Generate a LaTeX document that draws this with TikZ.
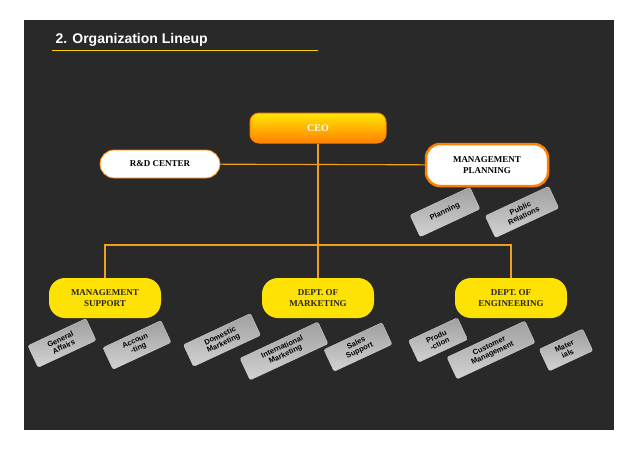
\documentclass[tikz,border=0pt]{standalone}
\usepackage{fontspec}
\setmainfont{Liberation Serif}
\newfontfamily\titlefont{Liberation Sans}
\definecolor{linkc}{HTML}{F0A020}
\begin{document}
\begin{tikzpicture}[x=1pt,y=-1pt,
  link/.style={draw=linkc, line width=1.1pt},
  head/.style={rounded corners=9pt, draw=orange, line width=1pt, top color=yellow!80!orange, bottom color=orange, text=white, font=\bfseries\normalsize, minimum width=136pt, minimum height=30pt},
  pill/.style={rounded corners=14pt, draw=orange, fill=white, font=\bfseries\small, align=center},
  dept/.style={rounded corners=16pt, fill=yellow!85!orange, font=\bfseries\small, align=center, minimum width=112pt, minimum height=40pt, text=black!85},
  task/.style={rotate=25, draw=gray!40, top color=gray!75, bottom color=gray!35, rounded corners=2pt, font=\titlefont\bfseries\fontsize{7.5}{8}\selectfont, text=black, align=center, minimum height=24pt, inner sep=1pt}]
\useasboundingbox (0,0) rectangle (638,451);
\fill[white] (0,0) rectangle (638,451);
\fill[black!84] (24,20) rectangle (614,430);
\node[anchor=west, text=white, font=\titlefont\bfseries\fontsize{14}{16}\selectfont] (title) at (52,40) {2. Organization Lineup};
\draw[yellow!70!orange, line width=0.8pt] (52,50) -- (318,50);

\node[head] (ceo) at (318,128) {CEO};
\node[pill, line width=0.8pt, minimum width=120pt, minimum height=28pt] (rd) at (160,164) {R\&D CENTER};
\node[pill, line width=2.5pt, minimum width=122pt, minimum height=42pt] (mp) at (487,165) {MANAGEMENT\\PLANNING};
\node[dept] (ms) at (105,298) {MANAGEMENT\\SUPPORT};
\node[dept] (mk) at (318,298) {DEPT. OF\\MARKETING};
\node[dept] (en) at (511,298) {DEPT. OF\\ENGINEERING};

\coordinate (c2) at (318,245);
\draw[link] (ceo) -- (c2);
\draw[link] (rd) -- (mp);
\draw[link] (ms) |- (c2);
\draw[link] (c2) -| (en);
\draw[link] (c2) -- (mk);

\node[task, minimum width=66pt] (t1) at (445,212) {Planning};
\node[task, minimum width=70pt] (t2) at (522,212) {Public\\Relations};
\node[task, minimum width=64pt] (t3) at (62,343) {General\\Affairs};
\node[task, minimum width=64pt] (t4) at (137,345) {Accoun\\-ting};
\node[task, minimum width=74pt] (t5) at (222,340) {Domestic\\Marketing};
\node[task, minimum width=86pt] (t6) at (284,351) {International\\Marketing};
\node[task, minimum width=64pt] (t7) at (358,347) {Sales\\Support};
\node[task, minimum width=54pt] (t8) at (438,340) {Produ\\-ction};
\node[task, minimum width=86pt] (t9) at (491,350) {Customer\\Management};
\node[task, minimum width=48pt] (t10) at (566,350) {Mater\\ials};
\end{tikzpicture}
\end{document}
